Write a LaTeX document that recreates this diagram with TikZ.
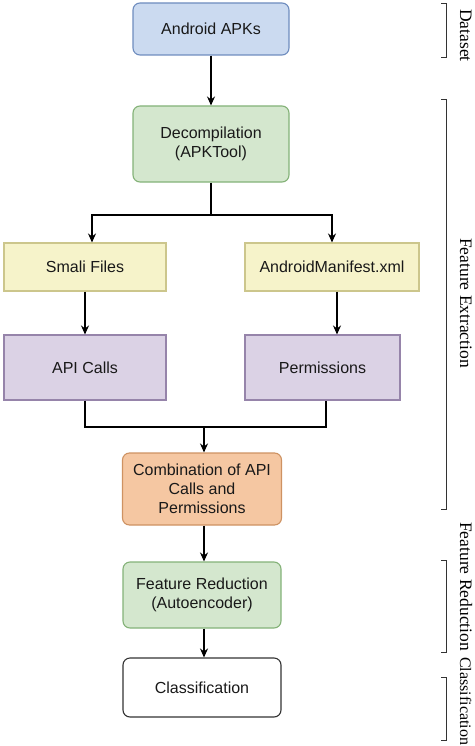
\documentclass[tikz,border=0pt]{standalone}
\usepackage{fontspec}
\setmainfont{Liberation Sans}
\newfontfamily\sidefont{Liberation Serif}
\usepackage{tikz}
\usetikzlibrary{arrows.meta}

\definecolor{apkFill}{RGB}{203,218,240}
\definecolor{apkLine}{RGB}{110,140,190}
\definecolor{decFill}{RGB}{212,231,206}
\definecolor{decLine}{RGB}{132,178,120}
\definecolor{srcFill}{RGB}{246,243,202}
\definecolor{srcLine}{RGB}{204,198,140}
\definecolor{featFill}{RGB}{219,210,229}
\definecolor{featLine}{RGB}{150,132,170}
\definecolor{combFill}{RGB}{245,199,162}
\definecolor{combLine}{RGB}{206,146,98}

\begin{document}
\begin{tikzpicture}[x=1pt, y=-1pt,
    box/.style={draw, line width=1.1pt, align=center, inner sep=0pt, text=black!90,
        font=\fontsize{16}{19}\selectfont},
    roundbox/.style={box, rounded corners=7pt},
    arr/.style={line width=1.2pt, -{Stealth[length=9pt,width=8pt]}},
    link/.style={line width=1.2pt},
    side/.style={line width=1pt, black!80},
    sidelabel/.style={rotate=-90, anchor=base west, inner sep=0pt,
        font=\sidefont\fontsize{17.5}{20}\selectfont}]
    \useasboundingbox (0,0) rectangle (474,746);

    \node[roundbox, fill=apkFill, draw=apkLine, minimum width=156pt, minimum height=52pt] (APK) at (211,29) {Android APKs};
    \node[roundbox, fill=decFill, draw=decLine, minimum width=156pt, minimum height=76pt] (Dec) at (211,144) {Decompilation\\(APKTool)};
    \node[box, fill=srcFill, draw=srcLine, minimum width=162pt, minimum height=48pt] (Smali) at (85,267) {Smali Files};
    \node[box, fill=srcFill, draw=srcLine, minimum width=174pt, minimum height=48pt] (Manifest) at (332,267) {AndroidManifest.xml};
    \node[box, fill=featFill, draw=featLine, minimum width=162pt, minimum height=65pt] (API) at (85,367.5) {API Calls};
    \node[box, fill=featFill, draw=featLine, minimum width=155pt, minimum height=65pt] (Perm) at (322.5,367.5) {Permissions};
    \node[roundbox, fill=combFill, draw=combLine, minimum width=159pt, minimum height=72pt] (Comb) at (202,489) {Combination of API\\Calls and\\Permissions};
    \node[roundbox, fill=decFill, draw=decLine, minimum width=158pt, minimum height=66pt] (Red) at (202,595) {Feature Reduction\\(Autoencoder)};
    \node[roundbox, fill=white, draw=black!80, minimum width=158pt, minimum height=59pt] (Cls) at (202,687.5) {Classification};

    \coordinate (S) at (211,215); % split below decompilation
    \coordinate (J) at (204,427); % join above combination

    \draw[arr] (APK) -- (Dec);
    \draw[link] (Dec.south) -- (S);
    \draw[arr] (S) -| ([xshift=7pt]Smali.north); % branch to smali files
    \draw[arr] (S) -| (Manifest.north); % branch to manifest
    \draw[arr] (Smali) -- (API);
    \draw[arr] ([xshift=5pt]Manifest.south) -- ([xshift=5pt]Manifest.south |- Perm.north);
    \draw[link] (API.south) |- (J) -| ([xshift=3.5pt]Perm.south);
    \draw[arr] (J) -- (J |- Comb.north);
    \draw[arr] ([xshift=2pt]Comb.south) -- ([xshift=2pt]Comb.south |- Red.north);
    \draw[arr] ([xshift=2pt]Red.south) -- ([xshift=2pt]Red.south |- Cls.north);

    % stage brackets on the right
    \foreach \ya/\yb in {4/58, 100/509, 560/652, 677/740}
        \draw[side] (441,\ya) -- (446,\ya) -- (446,\yb) -- (441,\yb);
    \node[sidelabel] (LData) at (460,9) {Dataset};
    \node[sidelabel] (LExtr) at (460,238) {Feature Extraction};
    \node[sidelabel] (LRed) at (460,522) {Feature Reduction};
    \node[sidelabel, font=\sidefont\fontsize{16}{19}\selectfont] (LCls) at (460,657) {Classification};
\end{tikzpicture}
\end{document}
